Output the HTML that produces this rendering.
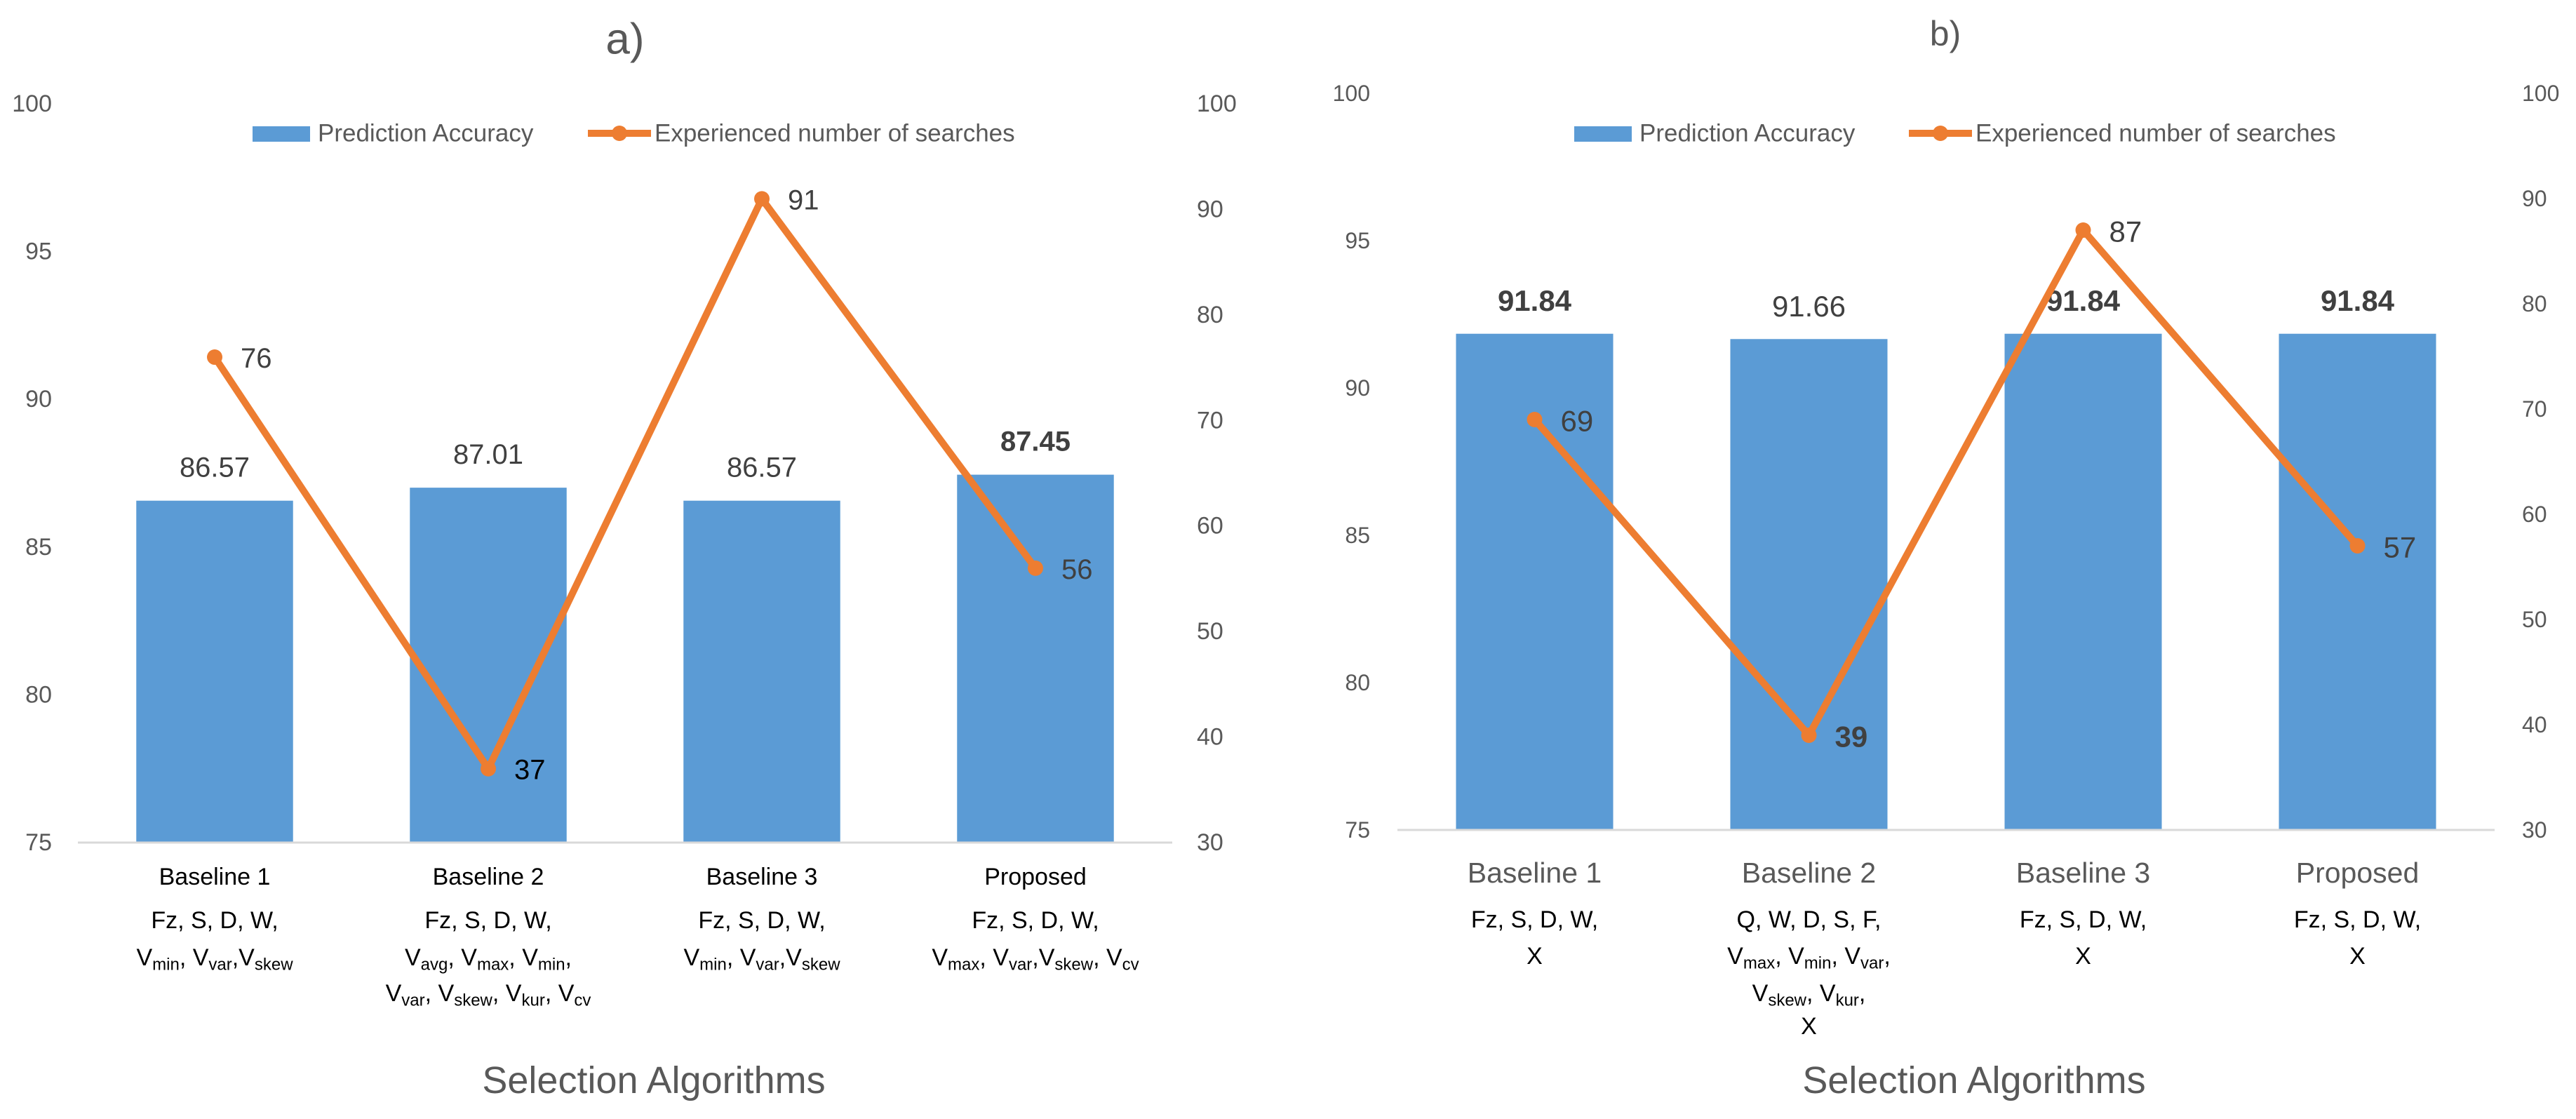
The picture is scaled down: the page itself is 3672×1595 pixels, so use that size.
<!DOCTYPE html>
<html><head><meta charset="utf-8"><style>
html,body{margin:0;padding:0;background:#fff;}
svg{display:block;font-family:"Liberation Sans",sans-serif;}
</style></head><body>
<svg id="chart" width="3672" height="1595" viewBox="0 0 3672 1595" xmlns="http://www.w3.org/2000/svg"></svg>
<script>
// ---- data ----
const categoriesA = ["Baseline 1","Baseline 2","Baseline 3","Proposed"];
const accuracyA = [86.57, 87.01, 86.57, 87.45];
const accuracyLabelsA = ["86.57","87.01","86.57","87.45"];
const searchesA = [76, 37, 91, 56];
const categoriesB = ["Baseline 1","Baseline 2","Baseline 3","Proposed"];
const accuracyB = [91.84, 91.66, 91.84, 91.84];
const accuracyLabelsB = ["91.84","91.66","91.84","91.84"];
const searchesB = [69, 39, 87, 57];
const leftTicks = [75, 80, 85, 90, 95, 100];
const rightTicks = [30, 40, 50, 60, 70, 80, 90, 100];
const featuresA = [
  ["Fz, S, D, W,", "V<min>, V<var>,V<skew>"],
  ["Fz, S, D, W,", "V<avg>, V<max>, V<min>,", "V<var>, V<skew>, V<kur>, V<cv>"],
  ["Fz, S, D, W,", "V<min>, V<var>,V<skew>"],
  ["Fz, S, D, W,", "V<max>, V<var>,V<skew>, V<cv>"]
];
const featuresB = [
  ["Fz, S, D, W,", "X"],
  ["Q, W, D, S, F,", "V<max>, V<min>, V<var>,", "V<skew>, V<kur>,", "X"],
  ["Fz, S, D, W,", "X"],
  ["Fz, S, D, W,", "X"]
];

const NS = "http://www.w3.org/2000/svg";
const svg = document.getElementById('chart');
function mk(tag, attrs, parent){
  const e = document.createElementNS(NS, tag);
  for (const k in attrs) e.setAttribute(k, attrs[k]);
  (parent||svg).appendChild(e);
  return e;
}
function richText(t, str, size){
  const parts = str.split(/(<[^>]+>)/);
  let sub = false;
  parts.forEach(p=>{
    if(!p) return;
    const ts = document.createElementNS(NS,'tspan');
    if (p[0]==='<'){
      ts.textContent = p.slice(1,-1);
      ts.setAttribute('font-size', Math.round(size*0.72));
      ts.setAttribute('dy', size*0.28);
      sub = true;
    } else {
      ts.textContent = p;
      if (sub){ ts.setAttribute('dy', -size*0.28); sub=false; }
    }
    t.appendChild(ts);
  });
}

function drawChart(o){
  const g = mk('g', {});
  
  
  const yL = v => o.yBase - (v-75)/25*(o.yBase-o.yTop);
  const yR = v => o.yBase - (v-30)/70*(o.yBase-o.yTop);
  const n = o.cats.length;
  const bw = (o.x1-o.x0)/n;
  const xC = i => o.x0 + bw*(i+0.5);

  // title
  const title = mk('text', {x:o.titleX, y:o.titleY, 'font-size':o.titleSize, fill:'#595959', 'text-anchor':'middle', 'dominant-baseline':'central'}, g);
  title.textContent = o.title;
  
  

  // ticks
  leftTicks.forEach(v=>{
    const t = mk('text', {x:o.leftTickX, y:yL(v), 'font-size':o.tickSize, fill:'#595959', 'text-anchor':'end', 'dominant-baseline':'central'}, g);
    t.textContent = v;
    
    
  });
  rightTicks.forEach(v=>{
    const t = mk('text', {x:o.rightTickX, y:yR(v), 'font-size':o.tickSize, fill:'#595959', 'text-anchor':'start', 'dominant-baseline':'central'}, g);
    t.textContent = v;
    
    
  });

  // bars
  o.bars.forEach((v,i)=>{
    const w = bw*0.573;
    const r = mk('rect', {x:xC(i)-w/2, y:yL(v), width:w, height:o.yBase-yL(v), fill:'#5B9BD5'}, g);
    
    
    const t = mk('text', {x:xC(i), y:yL(v)-47, 'font-size':o.valSize, fill:'#404040', 'text-anchor':'middle', 'dominant-baseline':'central', 'font-weight':o.boldBars[i]?'bold':'normal'}, g);
    t.textContent = o.barLabels[i];
    
    
  });

  // axis line
  const ax = mk('line', {x1:o.x0, x2:o.x1, y1:o.yBase, y2:o.yBase, stroke:'#D9D9D9', 'stroke-width':3}, g);
  
  

  // line series
  const pts = o.line.map((v,i)=>xC(i)+','+yR(v)).join(' ');
  const pl = mk('polyline', {points:pts, fill:'none', stroke:'#ED7D31', 'stroke-width':10, 'stroke-linejoin':'round'}, g);
  
  
  o.line.forEach((v,i)=>{
    const c = mk('circle', {cx:xC(i), cy:yR(v), r:11, fill:'#ED7D31'}, g);
    
    
    const t = mk('text', {x:xC(i)+37, y:yR(v)+2, 'font-size':o.valSize, fill:o.lineColors[i], 'text-anchor':'start', 'dominant-baseline':'central', 'font-weight':o.boldLine[i]?'bold':'normal'}, g);
    t.textContent = v;
    
    
  });

  // categories
  o.cats.forEach((c,i)=>{
    const t = mk('text', {x:xC(i), y:o.catY, 'font-size':o.catSize, fill:o.catColor, 'text-anchor':'middle', 'dominant-baseline':'central'}, g);
    t.textContent = c;
    
    
    o.feats[i].forEach((line,j)=>{
      const f = mk('text', {x:xC(i), y:o.featY[j], 'font-size':o.featSize, fill:'#000', 'text-anchor':'middle', 'dominant-baseline':'central'}, g);
      richText(f, line, o.featSize);
      
      
    });
  });

  // axis title
  const at = mk('text', {x:o.axTitleX, y:1540, 'font-size':54, fill:'#595959', 'text-anchor':'middle', 'dominant-baseline':'central'}, g);
  at.textContent = 'Selection Algorithms';
  
  

  // legend
  const lg = mk('g', {}, g);
  
  
  const lr = mk('rect', {x:o.legX, y:180, width:82, height:22, fill:'#5B9BD5'}, lg);
  
  
  const lt1 = mk('text', {x:o.legX+93, y:190, 'font-size':35, fill:'#595959', 'dominant-baseline':'central'}, lg);
  lt1.textContent = 'Prediction Accuracy';
  
  
  const ll = mk('line', {x1:o.legX2, x2:o.legX2+90, y1:190, y2:190, stroke:'#ED7D31', 'stroke-width':10}, lg);
  
  
  const lc = mk('circle', {cx:o.legX2+45, cy:190, r:11, fill:'#ED7D31'}, lg);
  
  
  const lt2 = mk('text', {x:o.legX2+95, y:190, 'font-size':35, fill:'#595959', 'dominant-baseline':'central'}, lg);
  lt2.textContent = 'Experienced number of searches';
  
  
}

drawChart({
  name:'chart-a', title:'a)', titleX:891, titleY:56, titleSize:62,
  x0:111, x1:1671, yBase:1201, yTop:148,
  leftTickX:74, rightTickX:1706, tickSize:34,
  cats:categoriesA, bars:accuracyA, barLabels:accuracyLabelsA, line:searchesA,
  boldBars:[0,0,0,1], boldLine:[0,0,0,0], lineColors:['#404040','#000','#404040','#404040'],
  valSize:40, catY:1250, catSize:34, catColor:'#000', featSize:34, featY:[1312,1365,1416],
  feats:featuresA, axTitleX:932, legX:360, legX2:838
});
drawChart({
  name:'chart-b', title:'b)', titleX:2773, titleY:48, titleSize:50,
  x0:1992, x1:3556, yBase:1183, yTop:133,
  leftTickX:1953, rightTickX:3595, tickSize:32,
  cats:categoriesB, bars:accuracyB, barLabels:accuracyLabelsB, line:searchesB,
  boldBars:[1,0,1,1], boldLine:[0,1,0,0], lineColors:['#404040','#404040','#404040','#404040'],
  valSize:42, catY:1244, catSize:41, catColor:'#595959', featSize:34, featY:[1311,1363,1416,1463],
  feats:featuresB, axTitleX:2814, legX:2244, legX2:2721
});
</script>
</body></html>
